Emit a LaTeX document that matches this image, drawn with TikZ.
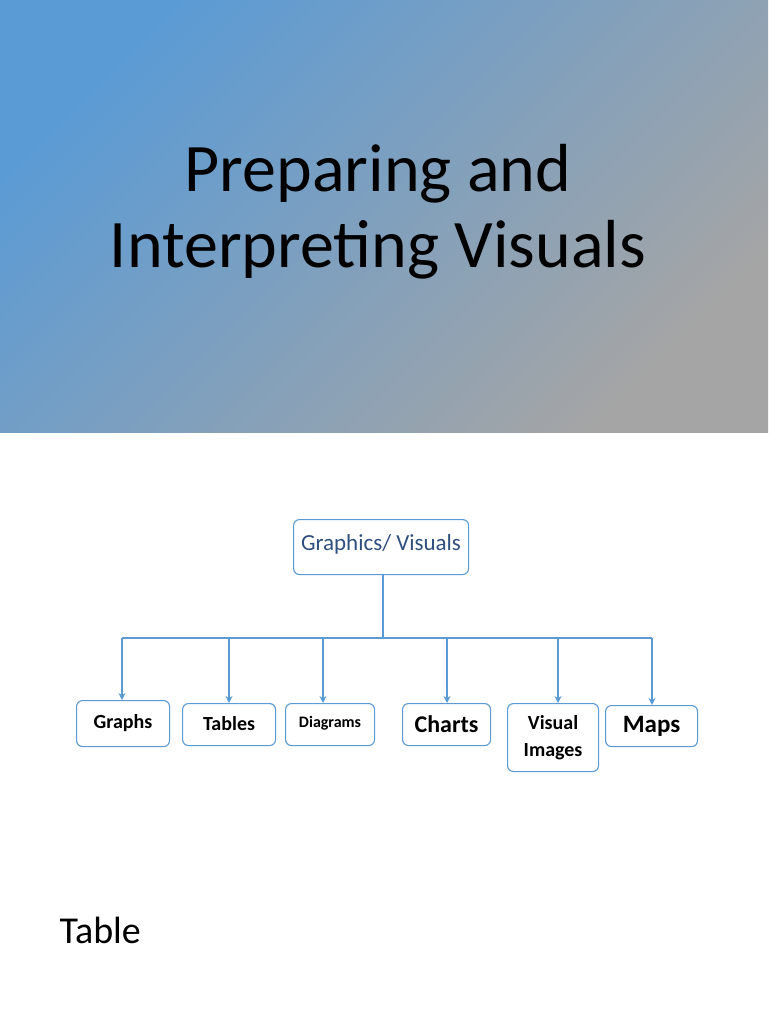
\documentclass[tikz,border=0pt]{standalone}
\usepackage{fontspec}
\setmainfont{Carlito}
\definecolor{lnblue}{HTML}{5B9BD5}
\definecolor{topblue}{HTML}{5B9BD5}
\definecolor{gr}{HTML}{A5A5A5}
\definecolor{txtblue}{HTML}{2F4F7F}
\usetikzlibrary{arrows.meta}
\tikzset{
  box/.style={draw=lnblue, line width=1.1pt, rounded corners=6pt, fill=white, anchor=north west, font=\bfseries\fontsize{20}{24}\selectfont, align=center, inner sep=0pt},
  conn/.style={draw=lnblue, line width=1.4pt},
  arr/.style={conn, -{Stealth[length=7pt,width=7pt]}}
}
\begin{document}
\begin{tikzpicture}[x=1pt,y=-1pt]
\useasboundingbox (0,0) rectangle (768,1024);
\fill[white] (0,0) rectangle (768,1024);
\shade[top color=topblue, bottom color=gr, shading angle=45] (0,0) rectangle (768,432);
\node[font=\fontsize{68}{76}\selectfont, align=center] (title) at (378,212) {Preparing and\\Interpreting Visuals};
\node[box, minimum width=175pt, minimum height=55pt, font=\fontsize{23}{26}\selectfont, text=txtblue, yshift=-2pt] (top) at (293,517) {\raisebox{9pt}{Graphics/ Visuals}};
\node[box, minimum width=93pt, minimum height=46pt] (graphs) at (76,700) {\raisebox{5pt}{Graphs}};
\node[box, minimum width=93pt, minimum height=42pt] (tables) at (182,703) {\raisebox{3pt}{Tables}};
\node[box, minimum width=89pt, minimum height=42pt, font=\bfseries\fontsize{16}{19}\selectfont] (diagrams) at (285,703) {\raisebox{6pt}{Diagrams}};
\node[box, minimum width=88pt, minimum height=42pt, font=\bfseries\fontsize{24}{28}\selectfont] (charts) at (402,703) {Charts};
\node[box, minimum width=91pt, minimum height=68pt, font=\bfseries\fontsize{20}{27}\selectfont] (visual) at (507,703) {Visual\\Images};
\node[box, minimum width=92pt, minimum height=41pt, font=\bfseries\fontsize{25}{28}\selectfont] (maps) at (605,705) {Maps};
\coordinate (hub) at (383,638);
\coordinate (hl) at (122,638);
\coordinate (hr) at (652,638);
\draw[conn] (top.south -| hub) -- (hub);
\draw[conn] (hl) -- (hr);
\draw[arr] (hl) -- (graphs.north -| hl);
\draw[arr] (229,638) -- (229,703);
\draw[arr] (323,638) -- (323,703);
\draw[arr] (447,638) -- (447,703);
\draw[arr] (558,638) -- (558,703);
\draw[arr] (hr) -- (maps.north -| hr);
\node[anchor=west, font=\fontsize{38}{44}\selectfont] (tab) at (56,930) {Table};
\end{tikzpicture}
\end{document}
